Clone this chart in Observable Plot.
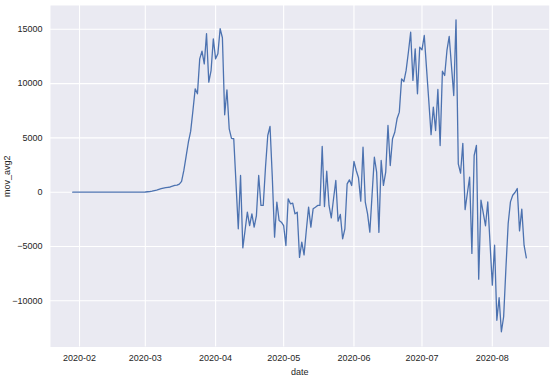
<!DOCTYPE html>
<html><head><meta charset="utf-8">
<script src="https://cdn.jsdelivr.net/npm/d3@7"></script>
<script src="https://cdn.jsdelivr.net/npm/@observablehq/plot@0.6"></script>
<style>html,body{margin:0;padding:0;background:#fff;}</style>
</head><body><div id="chart"></div>
<script>
// first date of the daily series
const startDate = [2020, 0, 29];
// mov_avg2 daily values (Jan 29 .. Aug 16, 2020)
const movAvg2 = [
  0,0,0,0,0,0,0,0,0,0, 0,0,0,0,0,0,0,0,0,0, 0,0,0,0,0,0,0,0,0,0, 0,
  10,20,40,60,100,150,200,260,320,380,420,450,480,550,620,650,750,1000,2000,3300,
  4600,5600,7500,9520,9060,12280,12980,11820,14590,10130,11200,14120,12280,12740,15050,14220,
  7130,9430,5840,4950,4920,800,-3370,1540,-5120,-3500,-1840,-3070,-1990,-3220,-2150,1540,
  -1220,-1220,2300,5220,6050,1380,-4140,-920,-2610,-2760,-3070,-4910,-610,-1070,-1010,-1990,
  -1840,-6000,-4600,-5770,-3500,-1380,-3220,-1530,-1380,-1220,-1220,4210,-1320,1930,-1220,-2360,
  -600,1080,-2670,-2050,-4290,-3370,770,1140,620,2830,2000,1330,-830,4140,-920,-1990,
  -3680,-200,3220,1840,-3700,2920,620,1840,6140,2460,4920,5520,6760,7370,10440,10190,
  11210,12890,14730,10290,13200,9060,13350,13110,14430,11400,8400,5300,7830,5680,9460,4300,
  11140,10750,13050,14340,11600,8900,15870,2610,1750,4500,-1600,-100,1380,-5640,3380,4300,
  -8010,-740,-1900,-3090,-900,-4700,-8560,-4880,-11790,-9720,-12850,-11470,-7000,-2880,-890,-280,
  -30,340,-3560,-1560,-4880,-6040
];
const xTickLabels = ["2020-02","2020-03","2020-04","2020-05","2020-06","2020-07","2020-08"];
const yTicks = [-10000, -5000, 0, 5000, 10000, 15000];
const xDomain = [new Date(Date.UTC(2020,0,19,5)), new Date(Date.UTC(2020,7,26,2))];
const yDomain = [-14254, 17191];

const data = movAvg2.map((v, i) => ({
  date: new Date(Date.UTC(startDate[0], startDate[1], startDate[2] + i)),
  value: v
}));
const xTicks = xTickLabels.map(s => new Date(s + "-01T00:00Z"));

const chart = Plot.plot({
  width: 552, height: 377,
  marginLeft: 50, marginRight: 3.3, marginTop: 5, marginBottom: 30.5,
  style: {fontFamily: "'Liberation Sans', Arial, sans-serif", fontSize: "9px", color: "#262626", background: "#fff"},
  x: {type: "utc", domain: xDomain},
  y: {domain: yDomain},
  marks: [
    Plot.frame({fill: "#EAEAF2", stroke: "none"}),
    Plot.gridX(xTicks, {stroke: "white", strokeOpacity: 1, strokeWidth: 1.1}),
    Plot.gridY(yTicks, {stroke: "white", strokeOpacity: 1, strokeWidth: 1.1}),
    Plot.line(data, {x: "date", y: "value", stroke: "#4C72B0", strokeWidth: 1.3}),
    Plot.axisX(xTicks, {tickSize: 0, tickPadding: 8, tickFormat: d3.utcFormat("%Y-%m"),
      label: "date", labelAnchor: "center", labelOffset: 28, labelArrow: "none"}),
    Plot.axisY(yTicks, {tickSize: 0, tickPadding: 8, tickFormat: d3.format("d"),
      label: "mov_avg2", labelAnchor: "center", labelOffset: 47, labelArrow: "none"})
  ]
});
document.getElementById("chart").appendChild(chart);
</script>
</body></html>
